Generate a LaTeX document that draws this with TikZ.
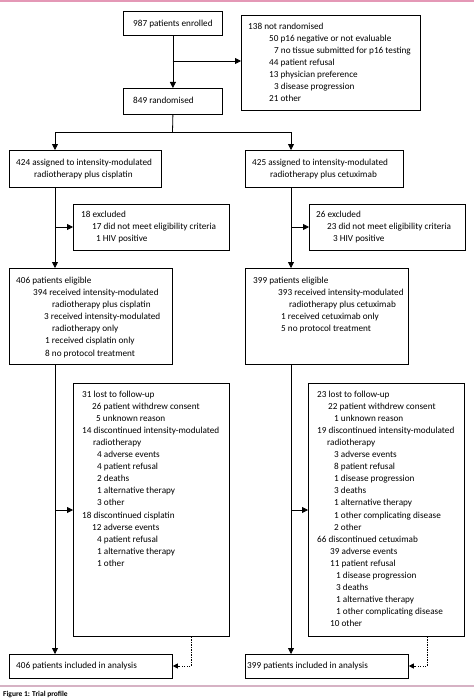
\documentclass[tikz,border=0pt]{standalone}
\usepackage{fontspec}
\setmainfont{Carlito}
\usetikzlibrary{arrows.meta}
\definecolor{pinkA}{RGB}{228,152,182}
\definecolor{pinkB}{RGB}{214,178,196}
\newcommand\Li[2]{\hspace*{#1pt}#2}
\newcommand\St{\rule{0pt}{8pt}}
\newcommand\boxat[5]{\node[box, minimum width={(#4-#2)*1pt}, minimum height={(#5-#3)*1pt}] (#1) at (#2,#3) {};}
\begin{document}
\begin{tikzpicture}[x=1pt,y=-1pt,
  box/.style={draw, line width=0.8pt, inner sep=0pt, anchor=north west},
  txt/.style={anchor=north west, inner sep=0pt, align=left, font=\fontsize{9.2}{12.1}\selectfont},
  con/.style={line width=0.8pt},
  arr/.style={line width=0.8pt, -{Triangle[length=6pt,width=6pt]}},
  dot/.style={line width=0.8pt, dash pattern=on 1.2pt off 1.3pt, -{Triangle[length=5pt,width=5pt]}}]
\useasboundingbox (0,0) rectangle (474,698);
\fill[white] (0,0) rectangle (474,698);
\fill[pinkA] (0,0) rectangle (474,2.2);
\fill[pinkB] (0,685) rectangle (474,687);
\node[anchor=base west, inner sep=0pt, font=\bfseries\fontsize{7.5}{9}\selectfont] (cap) at (3,696.2) {Figure 1: Trial profile};

% boxes
\boxat{enr}{123}{11}{222}{35}
\boxat{notr}{241}{15}{420}{110}
\boxat{rand}{123}{88}{222}{114}
\boxat{armA}{9}{150}{161}{187}
\boxat{armB}{245}{150}{403}{187}
\boxat{exclA}{73}{204}{229}{250}
\boxat{exclB}{309}{204}{465}{250}
\boxat{eligA}{9}{268}{172}{364}
\boxat{eligB}{245}{268}{408}{364}
\boxat{lostA}{73}{383}{229}{636}
\boxat{lostB}{308}{383}{464}{636}
\boxat{anaA}{9}{654}{172}{678}
\boxat{anaB}{245}{654}{408}{678}

% texts
\node[txt] (tenr) at (133,18.5) {\St 987 patients enrolled};
\node[txt] (trand) at (133,95.2) {\St 849 randomised};
\node[txt] (tnotr) at (248,21.2) {\St 138 not randomised\\
\Li{21}{50 p16 negative or not evaluable}\\
\Li{26}{7 no tissue submitted for p16 testing}\\
\Li{21}{44 patient refusal}\\
\Li{21}{13 physician preference}\\
\Li{26}{3 disease progression}\\
\Li{21}{21 other}};
\node[txt] (tarmA) at (16,157.2) {\St 424 assigned to intensity-modulated\\
\Li{18}{radiotherapy plus cisplatin}};
\node[txt] (tarmB) at (252,157.2) {\St 425 assigned to intensity-modulated\\
\Li{18}{radiotherapy plus cetuximab}};
\node[txt] (texclA) at (81,209.2) {\St 18 excluded\\
\Li{11}{17 did not meet eligibility criteria}\\
\Li{15}{1 HIV positive}};
\node[txt] (texclB) at (316,209.2) {\St 26 excluded\\
\Li{11}{23 did not meet eligibility criteria}\\
\Li{17}{3 HIV positive}};
\node[txt] (teligA) at (16,275.2) {\St 406 patients eligible\\
\Li{17}{394 received intensity-modulated}\\
\Li{36}{radiotherapy plus cisplatin}\\
\Li{28}{3 received intensity-modulated}\\
\Li{36}{radiotherapy only}\\
\Li{29}{1 received cisplatin only}\\
\Li{29}{8 no protocol treatment}};
\node[txt] (teligB) at (253,275.2) {\St 399 patients eligible\\
\Li{25}{393 received intensity-modulated}\\
\Li{36}{radiotherapy plus cetuximab}\\
\Li{28}{1 received cetuximab only}\\
\Li{28}{5 no protocol treatment}};
\node[txt] (tlostA) at (82,388.8) {\St 31 lost to follow-up\\
\Li{10}{26 patient withdrew consent}\\
\Li{14}{5 unknown reason}\\
14 discontinued intensity-modulated\\
\Li{11}{radiotherapy}\\
\Li{15}{4 adverse events}\\
\Li{15}{4 patient refusal}\\
\Li{15}{2 deaths}\\
\Li{15}{1 alternative therapy}\\
\Li{15}{3 other}\\
18 discontinued cisplatin\\
\Li{10}{12 adverse events}\\
\Li{15}{4 patient refusal}\\
\Li{15}{1 alternative therapy}\\
\Li{15}{1 other}};
\node[txt] (tlostB) at (317,388.8) {\St 23 lost to follow-up\\
\Li{11}{22 patient withdrew consent}\\
\Li{17}{1 unknown reason}\\
19 discontinued intensity-modulated\\
\Li{10}{radiotherapy}\\
\Li{17}{3 adverse events}\\
\Li{17}{8 patient refusal}\\
\Li{17}{1 disease progression}\\
\Li{17}{3 deaths}\\
\Li{17}{1 alternative therapy}\\
\Li{17}{1 other complicating disease}\\
\Li{17}{2 other}\\
66 discontinued cetuximab\\
\Li{13}{39 adverse events}\\
\Li{13}{11 patient refusal}\\
\Li{19}{1 disease progression}\\
\Li{19}{3 deaths}\\
\Li{19}{1 alternative therapy}\\
\Li{19}{1 other complicating disease}\\
\Li{13}{10 other}};
\node[txt] (tanaA) at (16,660.5) {\St 406 patients included in analysis};
\node[txt] (tanaB) at (247,660.5) {\St 399 patients included in analysis};

% connectors
\draw[arr] (enr.south) -- (rand.north);
\coordinate (b1) at (172.5,61);
\draw[arr] (b1) -- (b1 -| notr.west);
\coordinate (sp) at (172.5,132);
\draw[con] (rand.south) -- (sp);
\coordinate (spL) at (55,132);
\coordinate (spR) at (291,132);
\draw[con] (spL) -- (spR);
\draw[arr] (spL) -- (spL |- armA.north);
\draw[arr] (spR) -- (spR |- armB.north);
\draw[arr] (spL |- armA.south) -- (spL |- eligA.north);
\draw[arr] (spR |- armB.south) -- (spR |- eligB.north);
\coordinate (bA) at (55,227);
\coordinate (bB) at (291,227);
\draw[arr] (bA) -- (bA -| exclA.west);
\draw[arr] (bB) -- (bB -| exclB.west);
\draw[arr] (spL |- eligA.south) -- (spL |- anaA.north);
\draw[arr] (spR |- eligB.south) -- (spR |- anaB.north);
\coordinate (cA) at (55,510);
\coordinate (cB) at (291,510);
\draw[arr] (cA) -- (cA -| lostA.west);
\draw[arr] (cB) -- (cB -| lostB.west);
\coordinate (dA) at (191,666);
\coordinate (dB) at (427,666);
\draw[dot] (dA |- lostA.south) -- (dA) -- (dA -| anaA.east);
\draw[dot] (dB |- lostB.south) -- (dB) -- (dB -| anaB.east);
\end{tikzpicture}
\end{document}
